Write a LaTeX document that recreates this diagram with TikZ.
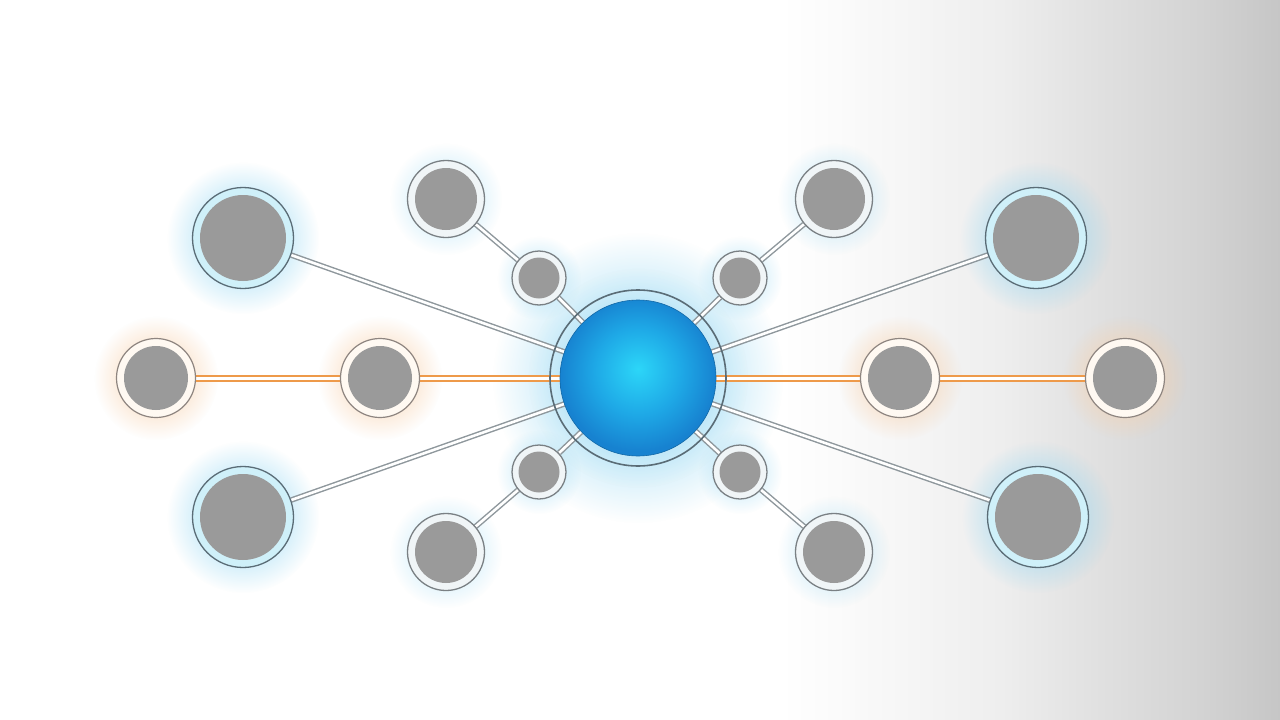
\documentclass[tikz,border=0pt]{standalone}
\usetikzlibrary{fadings}
\definecolor{sphA}{HTML}{2CD6F8}
\definecolor{sphB}{HTML}{1EA8E6}
\definecolor{sphC}{HTML}{1782D0}
\definecolor{ringdark}{HTML}{5A6C76}
\definecolor{ringgray}{HTML}{7A8084}
\definecolor{ringorange}{HTML}{8E8580}
\definecolor{bandcyan}{HTML}{CFF0F9}
\definecolor{bandwhite}{HTML}{F0F5F7}
\definecolor{nodegray}{HTML}{9A9A9A}
\definecolor{linkgray}{HTML}{8E979C}
\definecolor{orangec}{HTML}{EE9A4A}
\definecolor{glowblue}{HTML}{8FD6F3}
\definecolor{gloworange}{HTML}{F8CFA8}
\definecolor{bgA}{HTML}{F6F6F6}
\definecolor{bgB}{HTML}{EEEEEE}
\definecolor{bgC}{HTML}{E0E0E0}
\definecolor{bgD}{HTML}{D3D3D3}
\definecolor{bgE}{HTML}{C6C6C6}
\pgfdeclareradialshading{spherefill}{\pgfpoint{0bp}{3bp}}{color(0bp)=(sphA); color(14bp)=(sphB); color(25bp)=(sphC); color(50bp)=(sphC)}
\pgfdeclarehorizontalshading{bgshade}{100bp}{color(0bp)=(white); color(55.5bp)=(white); color(60.2bp)=(bgA); color(64.1bp)=(bgB); color(68bp)=(bgC); color(71.9bp)=(bgD); color(75bp)=(bgE); color(100bp)=(bgE)}
\tikzfading[name=glowfade, inner color=transparent!0, outer color=transparent!100]
\pgfdeclarelayer{glow}
\pgfdeclarelayer{links}
\pgfsetlayers{glow,links,main}
\tikzset{
  sphere/.style={circle, inner sep=0pt, minimum size=156pt, shading=spherefill, draw=sphC!80!black, line width=0.6pt},
  bignode/.style={circle, inner sep=0pt, minimum size=101pt, draw=ringdark, line width=1.3pt, fill=bandcyan,
    path picture={\fill[nodegray] (path picture bounding box.center) circle (43pt);}},
  midnode/.style={circle, inner sep=0pt, minimum size=77pt, draw=ringgray, line width=1.3pt, fill=bandwhite,
    path picture={\fill[nodegray] (path picture bounding box.center) circle (31pt);}},
  smallnode/.style={circle, inner sep=0pt, minimum size=54pt, draw=ringgray, line width=1.3pt, fill=bandwhite,
    path picture={\fill[nodegray] (path picture bounding box.center) circle (20.5pt);}},
  orangenode/.style={circle, inner sep=0pt, minimum size=79pt, draw=ringorange, line width=1.2pt, fill=white!95!orange,
    path picture={\fill[nodegray] (path picture bounding box.center) circle (32pt);}},
  link/.style={draw=linkgray, line width=5.5pt, postaction={draw=white, line width=2.6pt}},
  olink/.style={draw=orangec, line width=7pt, postaction={draw=white, line width=3pt}},
  bglow/.style={fill=glowblue, path fading=glowfade},
  oglow/.style={fill=gloworange, path fading=glowfade}
}
\begin{document}
\begin{tikzpicture}[x=1pt,y=-1pt]
\useasboundingbox (0,0) rectangle (1280,720);
\begin{pgfonlayer}{glow}
  \shade[shading=bgshade] (0,0) rectangle (1280,720);
\end{pgfonlayer}
% nodes
\node[sphere] (c) at (638,378) {};
\node[bignode] (b1) at (243,238) {};
\node[bignode] (b2) at (1036,238) {};
\node[bignode] (b3) at (243,517) {};
\node[bignode] (b4) at (1038,517) {};
\node[midnode] (m1) at (446,199) {};
\node[midnode] (m2) at (834,199) {};
\node[midnode] (m3) at (446,552) {};
\node[midnode] (m4) at (834,552) {};
\node[smallnode] (s1) at (539,278) {};
\node[smallnode] (s2) at (740,278) {};
\node[smallnode] (s3) at (539,472) {};
\node[smallnode] (s4) at (740,472) {};
\node[orangenode] (o1) at (156,378) {};
\node[orangenode] (o2) at (380,378) {};
\node[orangenode] (o3) at (900,378) {};
\node[orangenode] (o4) at (1125,378) {};
\draw[ringdark, line width=1.6pt] (c.center) circle (88);
% glows
\begin{pgfonlayer}{glow}
  \fill[bglow] (c.center) circle (145);
  \fill[bglow, opacity=0.5] (c.center) circle (110);
  \foreach \n in {b1,b2,b3,b4} {\fill[bglow] (\n.center) circle (76);}
  \foreach \n in {m1,m2,m3,m4} {\fill[bglow, opacity=0.6] (\n.center) circle (56);}
  \foreach \n in {s1,s2,s3,s4} {\fill[bglow, opacity=0.6] (\n.center) circle (42);}
  \foreach \n in {o1,o2,o3,o4} {\fill[oglow] (\n.center) circle (62);}
\end{pgfonlayer}
% connectors
\begin{pgfonlayer}{links}
  \foreach \n in {b1,b2,b3,b4,s1,s2,s3,s4} {\path[link] (\n) -- (c);}
  \path[link] (m1) -- (s1);
  \path[link] (m2) -- (s2);
  \path[link] (m3) -- (s3);
  \path[link] (m4) -- (s4);
  \path[olink] (o1) -- (o2);
  \path[olink] (o2) -- (c);
  \path[olink] (c) -- (o3);
  \path[olink] (o3) -- (o4);
\end{pgfonlayer}
\end{tikzpicture}
\end{document}
